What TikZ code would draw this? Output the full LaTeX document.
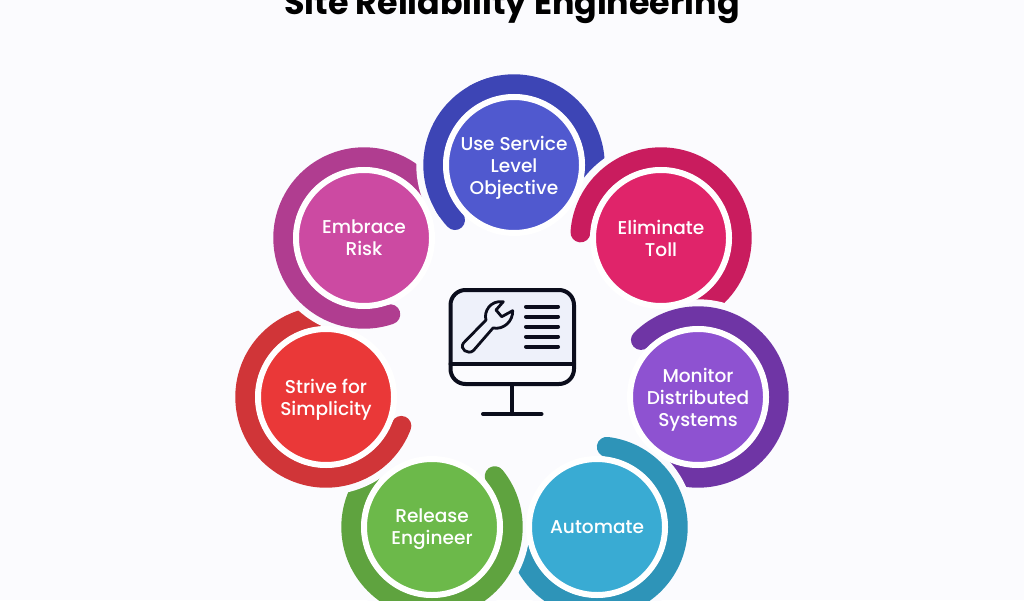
\documentclass[tikz,border=0pt]{standalone}
\usepackage{fontspec}
\setmainfont{Poppins}[UprightFont=* Medium,BoldFont=* Bold]
\definecolor{pagebg}{HTML}{FBFBFE}
\definecolor{screenbg}{HTML}{EEF1FA}
\definecolor{iconink}{HTML}{0B0D1C}
\definecolor{blueDisc}{HTML}{5059CF}\definecolor{blueArc}{HTML}{3D45B5}
\definecolor{crimsonDisc}{HTML}{E0246A}\definecolor{crimsonArc}{HTML}{C91C5E}
\definecolor{purpleDisc}{HTML}{8E52D1}\definecolor{purpleArc}{HTML}{6F35A5}
\definecolor{tealDisc}{HTML}{39ABD3}\definecolor{tealArc}{HTML}{2E94B8}
\definecolor{greenDisc}{HTML}{6CB94A}\definecolor{greenArc}{HTML}{5FA33F}
\definecolor{redDisc}{HTML}{EA3838}\definecolor{redArc}{HTML}{D03538}
\definecolor{pinkDisc}{HTML}{CC4AA2}\definecolor{pinkArc}{HTML}{B03D90}
\tikzset{
  disc/.style={circle,draw=white,line width=1.5mm,minimum size=34mm,inner sep=0pt,
    text=white,align=center,text depth=0pt,font=\fontsize{13.2}{15.6}\selectfont},
  halo/.style={draw=pagebg,line width=8.5mm,line cap=round},
  band/.style={line width=5mm,line cap=round},
  ink/.style={draw=iconink,line width=1mm,line cap=round}
}
\newcommand{\ringarc}[4]{%
  \draw[halo] (#1) ++(#3:80.7) arc (#3:#4:80.7);
  \draw[band,draw=#2] (#1) ++(#3:80.7) arc (#3:#4:80.7);
}
\begin{document}
\begin{tikzpicture}[x=0.25mm,y=0.25mm]
  \path[use as bounding box,fill=pagebg] (0,0) rectangle (1024,600);
  \node[font=\fontsize{23.7}{28}\selectfont\bfseries,anchor=base] (title) at (512,585) {Site Reliability Engineering};
  % centres of the seven rings
  \coordinate (cBlue) at (514,435);
  \coordinate (cCrimson) at (661,362);
  \coordinate (cPurple) at (698,203);
  \coordinate (cTeal) at (597,73);
  \coordinate (cGreen) at (432,73);
  \coordinate (cRed) at (326,203);
  \coordinate (cPink) at (364,362);
  % rings, each tail goes under the next one
  \ringarc{cBlue}{blueArc}{-10}{223}
  \ringarc{cCrimson}{crimsonArc}{176}{-60}
  \ringarc{cPurple}{purpleArc}{135}{-120}
  \ringarc{cTeal}{tealArc}{83}{-170}
  \ringarc{cGreen}{greenArc}{39}{-220}
  \ringarc{cRed}{redArc}{-21}{-270}
  \ringarc{cPink}{pinkArc}{-71}{-325}
  % left part of the first ring again, over the last tail
  \draw[halo,line cap=butt] (cBlue) ++(120:80.7) arc (120:210:80.7);
  \draw[band,line cap=butt,draw=blueArc] (cBlue) ++(100:80.7) arc (100:215:80.7);
  % discs
  \node[disc,fill=blueDisc] (useSlo) at (cBlue) {Use Service\\Level\\Objective};
  \node[disc,fill=crimsonDisc] (eliminate) at (cCrimson) {Eliminate\\Toll};
  \node[disc,fill=purpleDisc] (monitor) at (cPurple) {Monitor\\Distributed\\Systems};
  \node[disc,fill=tealDisc] (automate) at (cTeal) {Automate};
  \node[disc,fill=greenDisc] (release) at (cGreen) {Release\\Engineer};
  \node[disc,fill=redDisc] (strive) at (cRed) {Strive for\\Simplicity};
  \node[disc,fill=pinkDisc] (embrace) at (cPink) {Embrace\\Risk};
  % monitor icon
  \fill[screenbg] (452,236.5) -- (452,295) arc (180:90:15) -- (557,310) arc (90:0:15) -- (572,236.5) -- cycle;
  \draw[ink,rounded corners=3.75mm] (450.5,216) rectangle (574,310);
  \draw[ink] (450.5,236.5) -- (574,236.5);
  \draw[ink] (512,216) -- (512,186);
  \draw[ink] (483,186) -- (541.5,186);
  \foreach \yy in {293.3,283.3,273.3,263.3,253.3}
    \draw[ink] (526,\yy) -- (558,\yy);
  % wrench
  \draw[iconink,line width=0.7mm,line join=round] (463.5,257) -- (486,280)
    .. controls (483.5,288) and (490,300) .. (503.3,298.3)
    -- (496,290) -- (501.7,283.3) -- (512.7,289.3)
    .. controls (513,279) and (504,270) .. (493,272)
    -- (473.3,249.3) .. controls (468,245) and (459,251) .. (463.5,257) -- cycle;
\end{tikzpicture}
\end{document}
